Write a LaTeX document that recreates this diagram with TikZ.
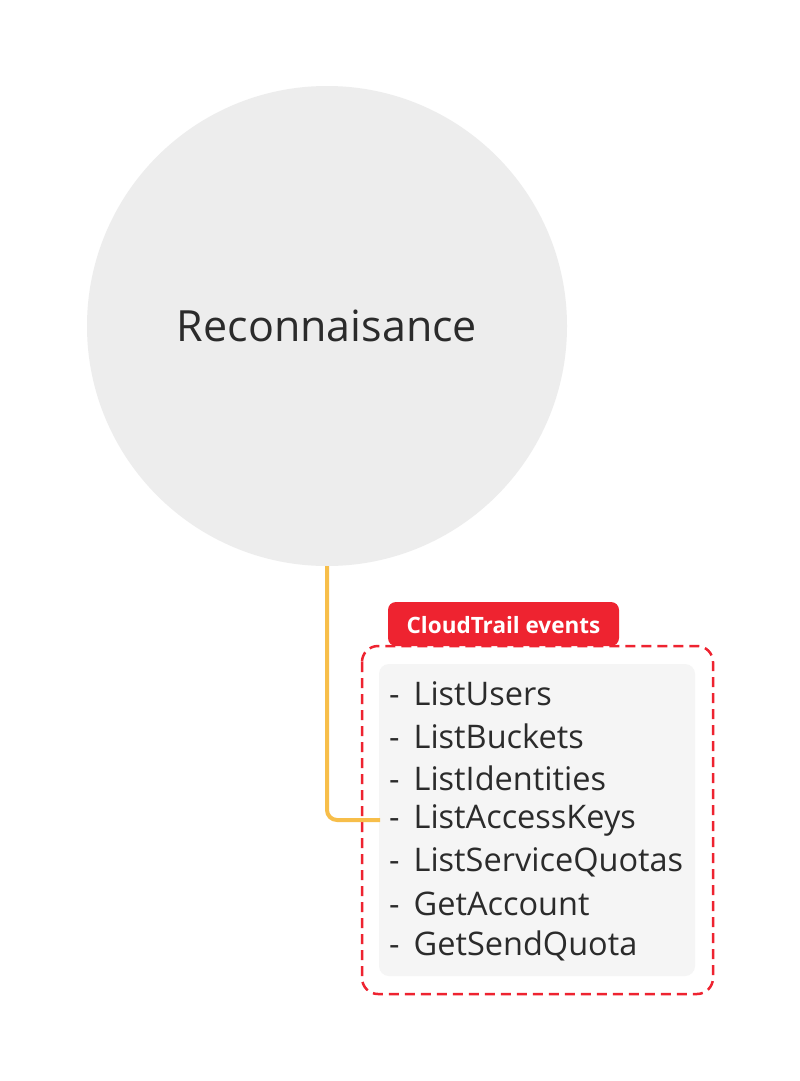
\documentclass[tikz,border=0pt]{standalone}
\usepackage{fontspec}
\setmainfont{Open Sans}
\definecolor{circ}{HTML}{EDEDED}
\definecolor{inner}{HTML}{F5F5F5}
\definecolor{cred}{HTML}{EE2330}
\definecolor{corange}{HTML}{F7BE4A}
\definecolor{txt}{HTML}{2B2B2B}
\begin{document}
\begin{tikzpicture}[x=1pt,y=-1pt,
  item/.style={anchor=west,font=\fontsize{32.5}{32.5}\selectfont,text=txt,inner sep=0}]
\useasboundingbox (0,0) rectangle (800,1081);
\fill[white] (0,0) rectangle (800,1081);
\node[circle,fill=circ,minimum size=480,inner sep=0] (c) at (327,326) {};
\node[font=\fontsize{43}{43}\selectfont,text=txt] at (c) {Reconnaisance};
\fill[inner,rounded corners=10] (379,664) rectangle (695,976);
\draw[cred,line width=2.5,dashed,dash pattern=on 10 off 6,rounded corners=16] (362,646) rectangle (713,994);
\fill[cred,rounded corners=8] (388,646) -- (388,602) -- (619,602) -- (619,646) -- cycle;
\node[text=white,font=\bfseries\fontsize{22.5}{22.5}\selectfont] (tab) at (503.5,625) {CloudTrail events};
\foreach \t [count=\i] in {ListUsers,ListBuckets,ListIdentities,ListAccessKeys,ListServiceQuotas,GetAccount,GetSendQuota}
  \node[item] (i\i) at (389,652+42*\i) {-\hspace{14pt}\t};
\coordinate (e) at (380,820);
\draw[corange,line width=4,rounded corners=10] (c.south) |- (e);
\end{tikzpicture}
\end{document}
